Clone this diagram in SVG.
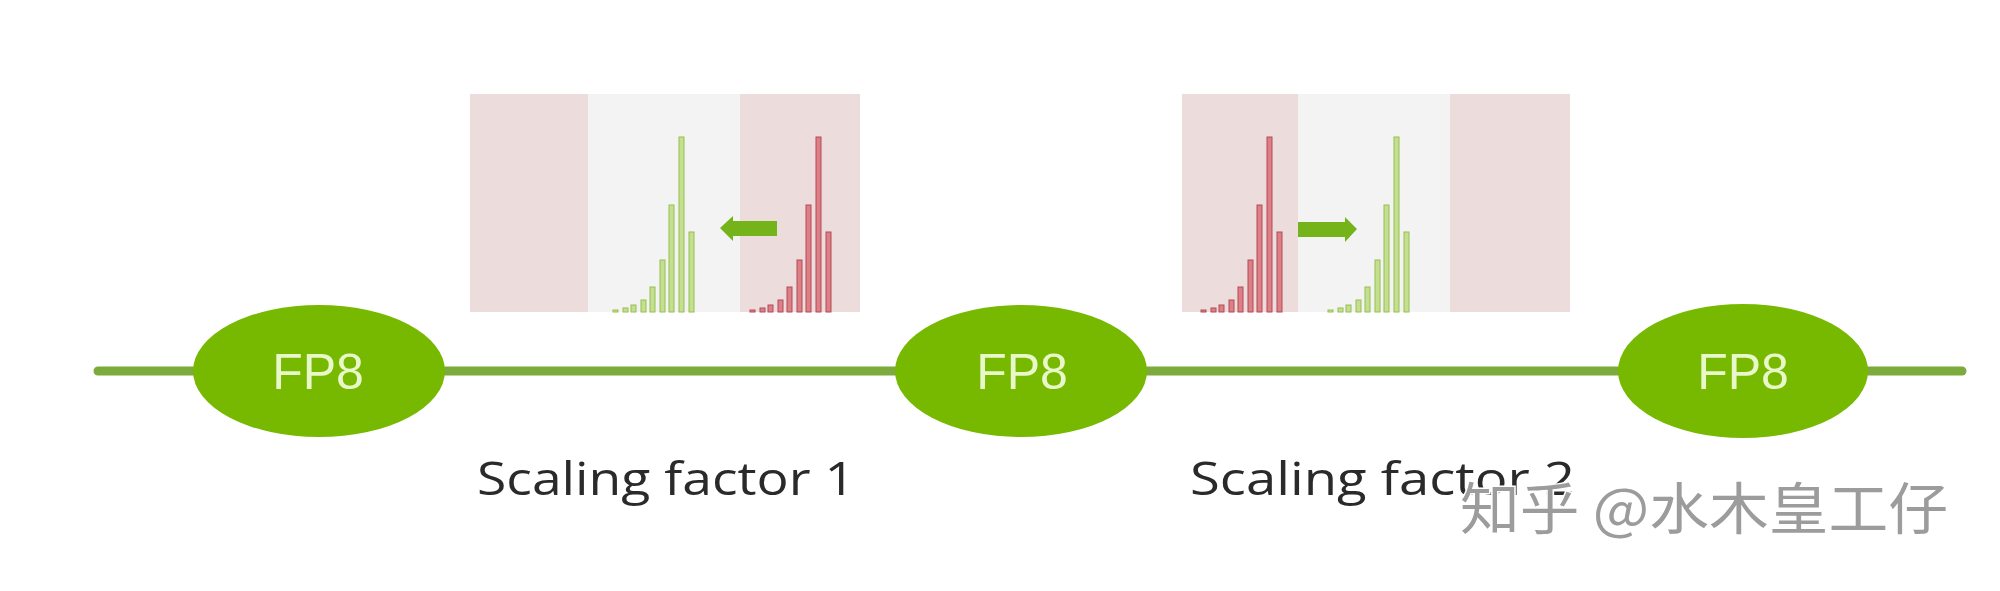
<svg xmlns="http://www.w3.org/2000/svg" width="2000" height="591" viewBox="0 0 2000 591">
  <style>
    .pink { fill: #eddcdc; }
    .grey { fill: #f3f3f3; }
    .gbar { fill: #c4df90; stroke: #96c050; stroke-width: 1; }
    .rbar { fill: #dc7f86; stroke: #b24b57; stroke-width: 1; }
    .arrow { fill: #74b41a; }
    .node { fill: #76b900; }
    .nodetext { font-family: "Liberation Sans", Arial, sans-serif; font-size: 50px; fill: #e9f8c8; text-anchor: middle; }
    .label { font-family: "Open Sans", "Liberation Sans", Arial, sans-serif; font-size: 46px; font-weight: 500; fill: #2a2a2a; }
    .conn { stroke: #7caa3c; stroke-width: 9; fill: none; stroke-linecap: round; }
    .wm { font-family: "Noto Sans CJK SC", "Liberation Sans", sans-serif; font-size: 56px; fill: #9c9c9c; stroke: #ffffff; stroke-width: 3; paint-order: stroke; }
  </style>
  <defs>
    <g id="hist">
      <rect x="-68" y="-2" width="5" height="2"/>
      <rect x="-58" y="-4" width="5" height="4"/>
      <rect x="-50" y="-7" width="5" height="7"/>
      <rect x="-40" y="-12" width="5" height="12"/>
      <rect x="-31" y="-25" width="5" height="25"/>
      <rect x="-21" y="-52" width="5" height="52"/>
      <rect x="-12" y="-107" width="5" height="107"/>
      <rect x="-2" y="-175" width="5" height="175"/>
      <rect x="8" y="-80" width="5" height="80"/>
    </g>
  </defs>
  <rect width="2000" height="591" fill="#ffffff"/>

  <g id="connectors">
    <line class="conn" x1="98" y1="371" x2="1962" y2="371"/>
  </g>

  <g id="panel1">
    <rect class="pink" x="470" y="94" width="118" height="218"/>
    <rect class="grey" x="588" y="94" width="152" height="218"/>
    <rect class="pink" x="740" y="94" width="120" height="218"/>
    <use href="#hist" class="gbar" transform="translate(681,312)"/>
    <use href="#hist" class="rbar" transform="translate(818,312)"/>
    <polygon class="arrow" points="720,228 733,216 733,221 777,221 777,236 733,236 733,241"/>
  </g>

  <g id="panel2">
    <rect class="pink" x="1182" y="94" width="116" height="218"/>
    <rect class="grey" x="1298" y="94" width="152" height="218"/>
    <rect class="pink" x="1450" y="94" width="120" height="218"/>
    <use href="#hist" class="rbar" transform="translate(1269,312)"/>
    <use href="#hist" class="gbar" transform="translate(1396,312)"/>
    <polygon class="arrow" points="1357,229 1345,217 1345,222 1298,222 1298,237 1345,237 1345,242"/>
  </g>

  <g id="node1">
    <ellipse class="node" cx="319" cy="371" rx="126" ry="66"/>
    <text class="nodetext" x="318" y="389">FP8</text>
  </g>
  <g id="node2">
    <ellipse class="node" cx="1021" cy="371" rx="126" ry="66"/>
    <text class="nodetext" x="1022" y="389">FP8</text>
  </g>
  <g id="node3">
    <ellipse class="node" cx="1743" cy="371" rx="125" ry="67"/>
    <text class="nodetext" x="1743" y="389">FP8</text>
  </g>

  <g id="label1">
    <text class="label" x="477" y="495" textLength="378" lengthAdjust="spacingAndGlyphs">Scaling factor 1</text>
  </g>
  <g id="label2">
    <text class="label" x="1190" y="495" textLength="385" lengthAdjust="spacingAndGlyphs">Scaling factor 2</text>
  </g>

  <g id="watermark">
    <text class="wm" x="1460" y="529" textLength="488" lengthAdjust="spacingAndGlyphs">知乎 @水木皇工仔</text>
  </g>
</svg>
